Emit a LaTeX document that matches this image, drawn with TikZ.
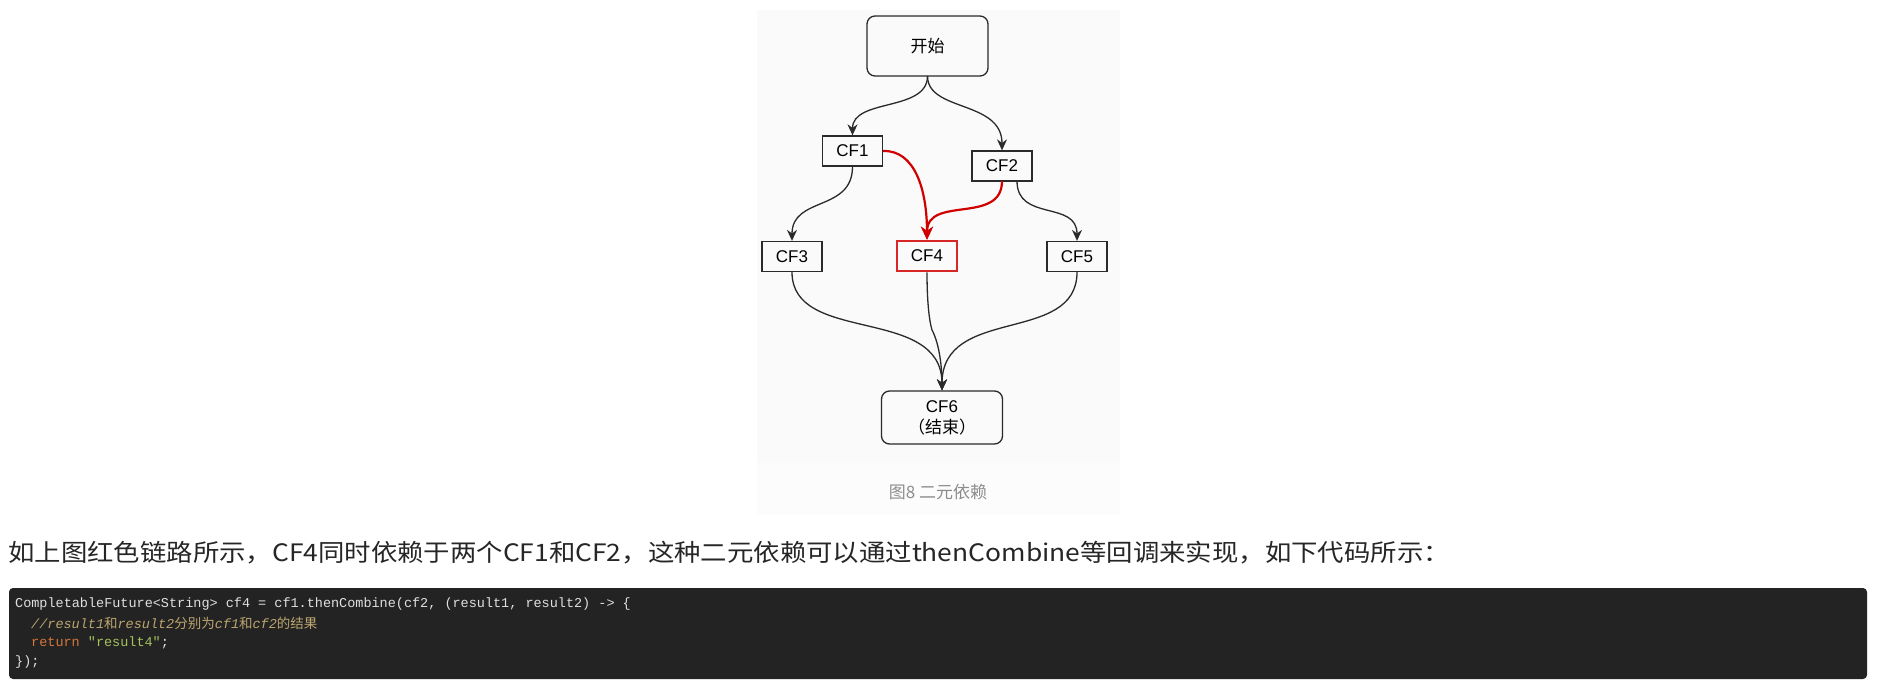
\documentclass[tikz,border=0pt]{standalone}
\usepackage{fontspec}
\setmainfont{Liberation Sans}
\newfontfamily\cjk{Noto Sans CJK SC}
\newfontfamily\codefont{Liberation Mono}
\usetikzlibrary{arrows.meta}
\definecolor{ln}{HTML}{2A2A2A}
\definecolor{rd}{HTML}{D10000}
\definecolor{codebg}{HTML}{232323}
\definecolor{codetx}{HTML}{E0E0E0}
\definecolor{cmt}{HTML}{BCA56E}
\definecolor{kw}{HTML}{D5763A}
\definecolor{str}{HTML}{A5C25C}
\begin{document}
\begin{tikzpicture}[x=1pt,y=-1pt,
  box/.style={draw=ln,line width=1.3pt,minimum width=60pt,minimum height=30pt,inner sep=0pt,font=\fontsize{17}{19}\selectfont},
  rbox/.style={box,rounded corners=8pt,minimum width=121pt},
  con/.style={draw=ln,line width=1.3pt,-{Stealth[length=11pt,width=10pt]}},
  rcon/.style={draw=rd,line width=2.2pt,-{Stealth[length=13pt,width=12pt]}}]
\useasboundingbox (0,0) rectangle (1877,691);
\fill[white] (0,0) rectangle (1877,691);
\fill[black!2] (757,10) rectangle (1120,463);
\fill[black!1] (757,463) rectangle (1120,515);
\node[rbox,minimum height=60pt] (start) at (927.5,46) {\cjk 开始};
\node[box] (cf1) at (852.5,151) {CF1};
\node[box] (cf2) at (1002,166) {CF2};
\node[box] (cf3) at (792,256.5) {CF3};
\node[box,draw=rd!85,line width=2.6pt] (cf4) at (927,256) {CF4};
\node[box] (cf5) at (1077,256.5) {CF5};
\node[rbox,minimum height=53pt,align=center,font=\fontsize{17}{21}\selectfont] (cf6) at (942,417.5) {CF6\\{\cjk （结束）}};
\coordinate (s1) at (927.5,76);
\draw[con] (s1) .. controls (927.5,112) and (852.5,98) .. (cf1.north);
\draw[con] (s1) .. controls (927.5,112) and (1002,100) .. (cf2.north);
\draw[con] (cf1.south) .. controls (852.5,212) and (792,196) .. (cf3.north);
\coordinate (c2b) at (1017,181);
\draw[con] (c2b) .. controls (1017,222) and (1077,200) .. (cf5.north);
\draw[con] (cf3.south) .. controls (792,345) and (942,305) .. (cf6.north);
\draw[con] (cf5.south) .. controls (1077,345) and (942,305) .. (cf6.north);
\draw[con] (cf4.south) .. controls (927,300) and (929,320) .. (932,330) .. controls (940,345) and (942,370) .. (cf6.north);
\draw[rcon] (cf1.east) .. controls (915,150) and (927,190) .. (cf4.north);
\draw[rcon] (1002,181) .. controls (1002,225) and (927,195) .. (cf4.north);
\node[text=black!45,font=\cjk\fontsize{17}{19}\selectfont] (cap) at (938,492) {图8 二元依赖};
\node[anchor=west,inner sep=0pt,xscale=1.1,font=\cjk\fontsize{24}{28}\selectfont,text=black!85] (para) at (8,553) {如上图红色链路所示，CF4同时依赖于两个CF1和CF2，这种二元依赖可以通过thenCombine等回调来实现，如下代码所示：};
\fill[codebg,rounded corners=4pt] (9,588) rectangle (1867,679);
\begin{scope}[every node/.style={anchor=west,inner sep=0pt,font=\codefont\fontsize{13.5}{16}\selectfont,text=codetx}]
\node (l1) at (15,604) {CompletableFuture<String> cf4 = cf1.thenCombine(cf2, (result1, result2) -> \{};
\node[text=cmt] (l2) at (31,623) {\itshape //result1{\cjk 和}result2{\cjk 分别为}cf1{\cjk 和}cf2{\cjk 的结果}};
\node (l3) at (31,643) {\textcolor{kw}{return} \textcolor{str}{"result4"};};
\node (l4) at (15,662) {\});};
\end{scope}
\end{tikzpicture}
\end{document}
